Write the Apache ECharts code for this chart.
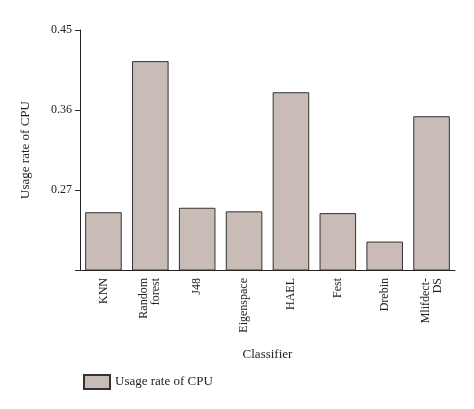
<!DOCTYPE html><html><head><meta charset="utf-8"><script src="https://cdn.jsdelivr.net/npm/echarts@6/dist/echarts.min.js"></script></head><body style="margin:0"><div id="c" style="width:474px;height:409px"></div><script>
const categories=["KNN","Random\nforest","J48","Eigenspace","HAEL","Fest","Drebin","Mlifdect-\nDS"];
const cpuUsage=[0.245,0.415,0.250,0.246,0.380,0.244,0.212,0.353];
const yTicks=[0.27,0.36,0.45];
const F='Liberation Serif';
const ch=echarts.init(document.getElementById('c'));
ch.setOption({
 animation:false,
 textStyle:{fontFamily:F,color:'#222'},
 grid:{left:80,right:19,top:30,bottom:139},
 legend:{left:78,top:369,itemWidth:26,itemHeight:14,icon:'rect',textStyle:{fontFamily:F,fontSize:13,color:'#222'},data:['Usage rate of CPU']},
 xAxis:{type:'category',data:categories,name:'Classifier',nameLocation:'middle',nameGap:78,nameTextStyle:{fontFamily:F,fontSize:13,color:'#222'},
  axisLine:{lineStyle:{color:'#222'}},axisTick:{alignWithLabel:false,lineStyle:{color:'#222'}},
  axisLabel:{rotate:90,fontFamily:F,fontSize:12,color:'#222',interval:0,align:'right',verticalAlign:'middle'}},
 yAxis:{type:'value',min:0.18,max:0.45,interval:0.09,name:'Usage rate of CPU',nameLocation:'middle',nameGap:48,nameTextStyle:{fontFamily:F,fontSize:13,color:'#222'},
  splitLine:{show:false},axisLine:{show:true,lineStyle:{color:'#222'}},axisTick:{show:true,lineStyle:{color:'#222'}},
  axisLabel:{fontFamily:F,fontSize:12,color:'#222',formatter:v=>yTicks.some(t=>Math.abs(t-v)<1e-6)?v.toFixed(2):''}},
 series:[{name:'Usage rate of CPU',type:'bar',data:cpuUsage,barWidth:'78%',itemStyle:{color:'#c9bcb6',borderColor:'#333',borderWidth:1}}]
});
</script></body></html>
